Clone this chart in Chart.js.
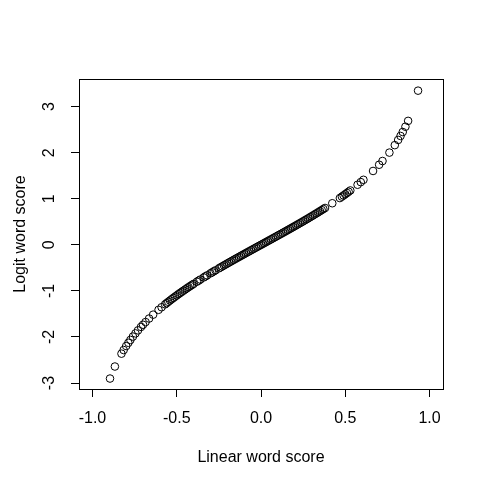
<!DOCTYPE html>
<html>
<head>
<meta charset="utf-8">
<script src="https://cdn.jsdelivr.net/npm/chart.js@4"></script>
<style>
  body { margin: 0; background: #fff; }
</style>
</head>
<body>
<canvas id="wordChart" width="484" height="487"></canvas>
<script>
// word scores (linear vs logit)
var linearScore = [
  -0.896, -0.867, -0.828, -0.815, -0.800, -0.787, -0.775, -0.760, -0.745, -0.730,
  -0.712, -0.700, -0.685, -0.664, -0.640, -0.608, -0.590, -0.569,
  -0.56, -0.55, -0.54, -0.53, -0.52, -0.51, -0.50, -0.49, -0.48, -0.47,
  -0.46, -0.45, -0.44, -0.43, -0.42, -0.41, -0.40, -0.38, -0.37, -0.36,
  -0.34, -0.33, -0.32, -0.30, -0.29, -0.28, -0.27, -0.25, -0.24, -0.23,
  -0.22, -0.21, -0.20, -0.19, -0.18, -0.17, -0.16, -0.15, -0.14, -0.13,
  -0.12, -0.11, -0.10, -0.09, -0.08, -0.07, -0.06, -0.05, -0.04, -0.03,
  -0.02, -0.01, 0.00,
  0.01, 0.02, 0.03, 0.04, 0.05, 0.06, 0.07, 0.08, 0.09, 0.10,
  0.11, 0.12, 0.13, 0.14, 0.15, 0.16, 0.17, 0.18, 0.19, 0.20,
  0.21, 0.22, 0.23, 0.24, 0.25, 0.26, 0.27, 0.28, 0.29, 0.30,
  0.31, 0.32, 0.33, 0.34, 0.35, 0.36, 0.37, 0.38,
  0.423, 0.468, 0.48, 0.49, 0.50, 0.51, 0.52, 0.53,
  0.573, 0.592, 0.608, 0.665, 0.701, 0.721, 0.762, 0.794,
  0.814, 0.828, 0.841, 0.857, 0.873, 0.932
];
var logitScore = [
  -2.903, -2.642, -2.363, -2.284, -2.197, -2.127, -2.065, -1.992, -1.923, -1.857,
  -1.782, -1.735, -1.677, -1.600, -1.516, -1.411, -1.355, -1.292,
  -1.266, -1.237, -1.2085, -1.1804, -1.1527, -1.1255, -1.0986, -1.0721, -1.046, -1.0201,
  -0.9946, -0.9694, -0.9445, -0.9198, -0.8954, -0.8712, -0.8473, -0.8001, -0.7768, -0.7538,
  -0.7082, -0.6856, -0.6633, -0.619, -0.5971, -0.5754, -0.5537, -0.5108, -0.4895, -0.4684,
  -0.4473, -0.4263, -0.4055, -0.3847, -0.364, -0.3433, -0.3228, -0.3023, -0.2819, -0.2615,
  -0.2412, -0.2209, -0.2007, -0.1805, -0.1603, -0.1402, -0.1201, -0.1001, -0.08, -0.06,
  -0.04, -0.02, 0.00,
  0.02, 0.04, 0.06, 0.08, 0.1001, 0.1201, 0.1402, 0.1603, 0.1805, 0.2007,
  0.2209, 0.2412, 0.2615, 0.2819, 0.3023, 0.3228, 0.3433, 0.364, 0.3847, 0.4055,
  0.4263, 0.4473, 0.4684, 0.4895, 0.5108, 0.5322, 0.5537, 0.5754, 0.5971, 0.619,
  0.6411, 0.6633, 0.6856, 0.7082, 0.7309, 0.7538, 0.7768, 0.8001,
  0.9027, 1.015, 1.046, 1.0721, 1.0986, 1.1255, 1.1527, 1.1804,
  1.304, 1.3615, 1.4115, 1.6034, 1.7386, 1.8194, 2.002, 2.164,
  2.2775, 2.3635, 2.449, 2.564, 2.691, 3.347
];
var xTicks = [-1.0, -0.5, 0.0, 0.5, 1.0];
var yTicks = [-3, -2, -1, 0, 1, 2, 3];

var FONT = '"Liberation Sans", Arial, Helvetica, sans-serif';

// R style box round the plot region
var boxPlugin = {
  id: 'box',
  afterDraw: function(chart) {
    var a = chart.chartArea, ctx = chart.ctx;
    ctx.save();
    ctx.strokeStyle = '#000';
    ctx.lineWidth = 1;
    ctx.strokeRect(Math.round(a.left) + 0.5, Math.round(a.top) + 0.5,
      Math.round(a.right - a.left), Math.round(a.bottom - a.top));
    ctx.restore();
  }
};

var ctx = document.getElementById('wordChart');
var wordChart = new Chart(ctx, {
  type: 'scatter',
  data: {
    datasets: [{
      data: linearScore.map(function(x, i) { return { x: x, y: logitScore[i] }; }),
      pointStyle: 'circle',
      pointRadius: 3.8,
      pointBorderWidth: 1,
      pointBorderColor: '#000',
      pointBackgroundColor: 'rgba(0,0,0,0)'
    }]
  },
  options: {
    responsive: false,
    animation: false,
    layout: { padding: { top: 79, right: 41, left: 0, bottom: 0 } },
    plugins: { legend: { display: false }, tooltip: { enabled: false } },
    scales: {
      x: {
        type: 'linear',
        min: -1.08,
        max: 1.08,
        afterBuildTicks: function(scale) { scale.ticks = xTicks.map(function(v) { return { value: v }; }); },
        afterFit: function(scale) { scale.height = 98; },
        border: { display: false },
        grid: { drawOnChartArea: false, drawTicks: true, tickLength: 8, color: '#000' },
        ticks: {
          color: '#000',
          padding: 12,
          maxRotation: 0,
          font: { family: FONT, size: 16 },
          callback: function(v) { return v.toFixed(1); }
        },
        title: {
          display: true,
          text: 'Linear word score',
          color: '#000',
          font: { family: FONT, size: 16 },
          padding: { top: 20, bottom: 20 }
        }
      },
      y: {
        type: 'linear',
        min: -3.13,
        max: 3.6,
        afterBuildTicks: function(scale) { scale.ticks = yTicks.map(function(v) { return { value: v }; }); },
        afterFit: function(scale) { scale.width = 79; },
        border: { display: false },
        grid: { drawOnChartArea: false, drawTicks: true, tickLength: 8, color: '#000' },
        ticks: {
          color: '#000',
          padding: 14,
          minRotation: 90,
          maxRotation: 90,
          crossAlign: 'center',
          font: { family: FONT, size: 16 },
          callback: function(v) { return String(v); }
        },
        title: {
          display: true,
          text: 'Logit word score',
          color: '#000',
          font: { family: FONT, size: 16 },
          padding: { top: 11, bottom: 11 }
        }
      }
    }
  },
  plugins: [boxPlugin]
});
</script>
</body>
</html>
